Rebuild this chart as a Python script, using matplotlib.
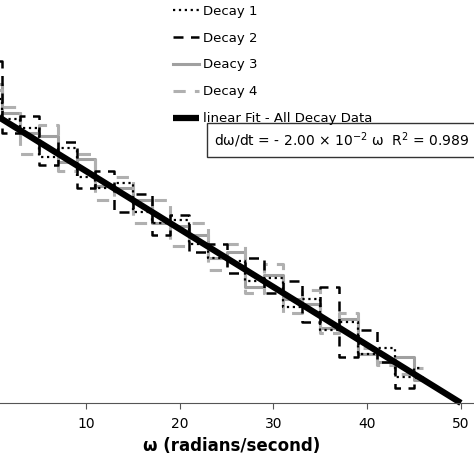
import matplotlib.pyplot as plt
import numpy as np

# omega grid and decay rates (y axis unlabelled, fit hits 0 at 50)
omega = [0, 2, 4, 6, 8, 10, 12, 14, 16, 18, 20, 22, 24, 26, 28, 30, 32, 34, 36, 38, 40, 42, 44, 46]
decay1 = [1.05, .98, .95, .85, .88, .78, .74, .76, .66, .62, .63, .55, .50, .49, .42, .43, .33, .36, .25, .28, .17, .19, .09, .12]
decay2 = [1.18, .93, .99, .82, .90, .74, .80, .66, .72, .58, .65, .52, .55, .45, .50, .38, .42, .28, .40, .16, .25, .14, .05, .09]
decay3 = [1.10, 1.0, .93, .92, .83, .84, .75, .74, .70, .62, .61, .58, .50, .52, .40, .44, .36, .34, .26, .29, .17, .14, .16, .08]
decay4 = [1.08, 1.02, .86, .96, .80, .86, .70, .78, .62, .70, .54, .62, .46, .55, .38, .48, .31, .39, .24, .31, .19, .13, .10, .12]
fit_x = [0, 50]
fit_y = [1.0, 0.0]
xticks = [10, 20, 30, 40, 50]

fig = plt.figure(figsize=(4.74, 4.74), dpi=100)
ax = fig.add_axes([0, 0, 1, 1])

ax.plot(omega, decay3, color='#a0a0a0', lw=2.2, drawstyle='steps-mid', label='Deacy 3')
ax.plot(omega, decay4, color='#b0b0b0', lw=2.2, ls=(0, (4, 3)), drawstyle='steps-mid', label='Decay 4')
ax.plot(omega, decay1, color='black', lw=1.6, ls=':', drawstyle='steps-mid', label='Decay 1')
ax.plot(omega, decay2, color='black', lw=1.8, ls=(0, (4, 3)), drawstyle='steps-mid', label='Decay 2')
ax.plot(fit_x, fit_y, color='black', lw=4.5, solid_capstyle='butt', label='linear Fit - All Decay Data')

ax.set_xlim(0.83, 51.4)
ax.set_ylim(-0.245, 1.39)
for s in ['left', 'right', 'top']:
    ax.spines[s].set_visible(False)
ax.spines['bottom'].set_position(('data', 0))
ax.spines['bottom'].set_color('#555555')
ax.set_yticks([])
ax.set_xticks(xticks)
ax.tick_params(axis='x', direction='out', length=4, color='#555555', labelsize=10, pad=6)

ax.text(25.5, -0.15, 'ω (radians/second)', fontsize=12, fontweight='bold', ha='center', va='center')

h, l = ax.get_legend_handles_labels()
order = [2, 3, 0, 1, 4]
ax.legend([h[i] for i in order], [l[i] for i in order], loc='upper left',
          bbox_to_anchor=(0.34, 1.015), frameon=False, fontsize=9.5,
          handlelength=2.0, handletextpad=0.3, labelspacing=1.05)

ax.text(0.99, 0.705, 'dω/dt = - 2.00 × 10$^{-2}$ ω  R$^2$ = 0.989', transform=ax.transAxes,
        ha='right', va='center', fontsize=10,
        bbox=dict(boxstyle='square,pad=0.5', fc='white', ec='#333333', lw=1))

fig.savefig('out.png', dpi=100)
